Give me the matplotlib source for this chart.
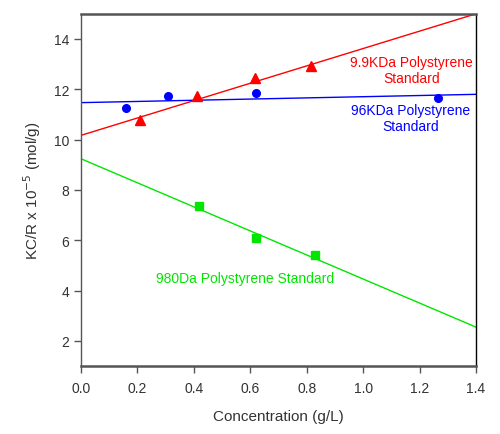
import matplotlib.pyplot as plt
import numpy as np

plt.rcParams['font.family'] = ['Liberation Sans', 'DejaVu Sans']

# ---- data ----
conc_96k = [0.16, 0.31, 0.62, 1.265]
kcr_96k = [11.25, 11.75, 11.87, 11.67]
fit_96k = [11.47, 11.80]          # value at x=0 and x=1.4

conc_9k = [0.21, 0.41, 0.615, 0.815]
kcr_9k = [10.78, 11.75, 12.44, 12.93]
fit_9k = [10.17, 15.0]

conc_980 = [0.418, 0.62, 0.83]
kcr_980 = [7.35, 6.10, 5.40]
fit_980 = [9.24, 2.55]

fit_x = [0.0, 1.4]

RED = '#ff0000'
BLUE = '#0000ff'
GREEN = '#00e600'
AXIS = '#555555'

fig = plt.figure(figsize=(5.0, 4.35), dpi=100)
ax = fig.add_axes([0.162, 0.156, 0.790, 0.810])

ax.plot(fit_x, fit_9k, color=RED, lw=1)
ax.plot(fit_x, fit_96k, color=BLUE, lw=1)
ax.plot(fit_x, fit_980, color=GREEN, lw=1)

ax.plot(conc_9k, kcr_9k, '^', color=RED, ms=7, mec=RED)
ax.plot(conc_96k, kcr_96k, 'o', color=BLUE, ms=5.5, mec=BLUE)
ax.plot(conc_980, kcr_980, 's', color=GREEN, ms=6, mec=GREEN)

ax.text(1.172, 12.76, '9.9KDa Polystyrene\nStandard', color=RED,
        ha='center', va='center', fontsize=10, linespacing=1.15)
ax.text(1.169, 10.86, '96KDa Polystyrene\nStandard', color=BLUE,
        ha='center', va='center', fontsize=10, linespacing=1.15)
ax.text(0.581, 4.5, '980Da Polystyrene Standard', color=GREEN,
        ha='center', va='center', fontsize=10)

ax.set_xlim(0, 1.4)
ax.set_ylim(1, 15)
ax.set_xticks(np.arange(0, 1.41, 0.2))
ax.set_xticklabels([f'{v:.1f}' for v in np.arange(0, 1.41, 0.2)])
ax.set_yticks([2, 4, 6, 8, 10, 12, 14])

ax.set_xlabel('Concentration (g/L)', fontsize=11, color='#333333', labelpad=10)
ax.set_ylabel('KC/R x 10$^{-5}$ (mol/g)', fontsize=11, color='#333333', labelpad=8)

ax.tick_params(direction='out', length=5, width=1, color=AXIS,
               labelsize=10, labelcolor='#333333')
ax.tick_params(axis='x', pad=6)

for side in ['top', 'bottom']:
    ax.spines[side].set_linewidth(1.8)
    ax.spines[side].set_color(AXIS)
ax.spines['left'].set_linewidth(1)
ax.spines['left'].set_color(AXIS)
ax.spines['right'].set_linewidth(1)
ax.spines['right'].set_color('black')

fig.savefig('out.png', dpi=100, facecolor='white')
